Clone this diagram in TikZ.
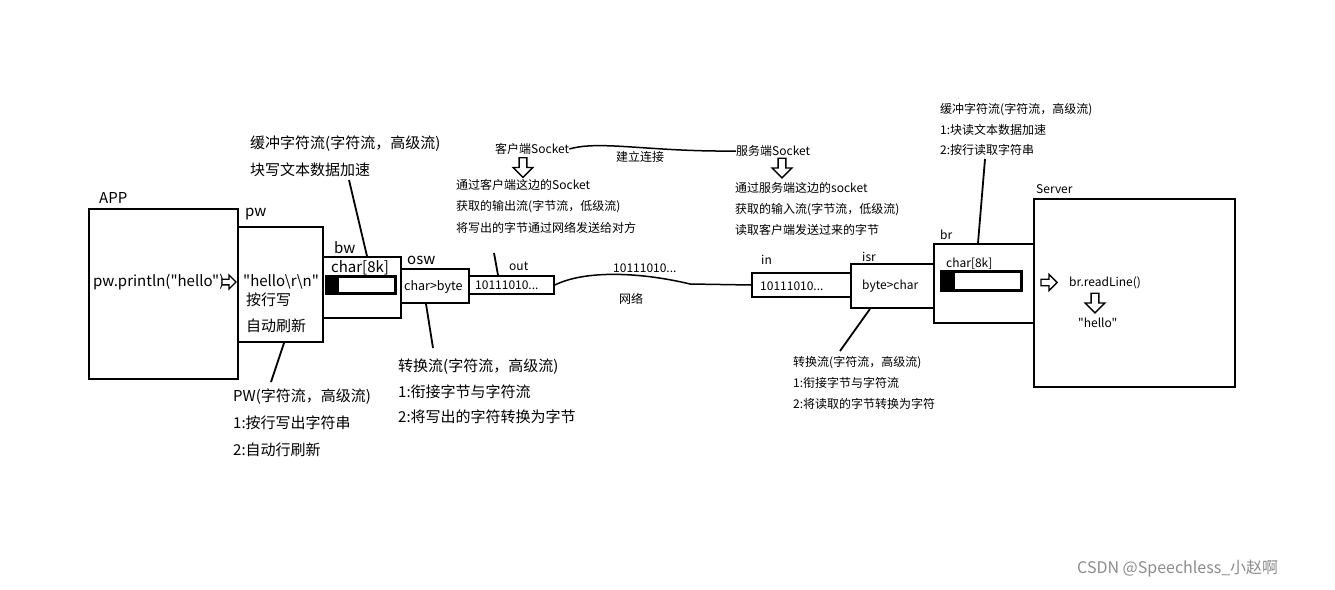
\documentclass[tikz,border=0pt]{standalone}
\usepackage{fontspec}
\setmainfont{Noto Sans CJK SC}[Ligatures=TeXOff]
\usetikzlibrary{calc}
\newcommand{\dq}{\symbol{34}}
\tikzset{
  box/.style={draw, line width=1.8pt, inner sep=0pt, fill=white},
  big/.style={inner sep=0pt, anchor=west, font=\fontsize{15}{18}\selectfont},
  small/.style={inner sep=0pt, anchor=west, font=\fontsize{12}{14}\selectfont},
  lead/.style={line width=1.8pt},
  wire/.style={line width=1.5pt},
  hollowarrow/.pic={\draw[line width=1.4pt, fill=white] (-7,-2.8) -- (0,-2.8) -- (0,-7) -- (7,0) -- (0,7) -- (0,2.8) -- (-7,2.8) -- cycle;}
}
\begin{document}
\begin{tikzpicture}[x=1pt,y=-1pt]
\useasboundingbox (0,0) rectangle (1335,589);
% boxes
\node[box, minimum width=149, minimum height=170] (app) at (163.5,294) {};
\node[box, minimum width=85, minimum height=115] (pw) at (280.5,284.5) {};
\node[box, minimum width=78, minimum height=61] (bw) at (362,287.5) {};
\node[box, minimum width=68, minimum height=34] (osw) at (435,286) {};
\node[box, minimum width=85, minimum height=18] (out) at (511.5,285) {};
\node[box, minimum width=99, minimum height=24] (in) at (801.5,285) {};
\node[box, minimum width=84, minimum height=44] (isr) at (893,286) {};
\node[box, minimum width=100, minimum height=79] (br) at (984,283.5) {};
\node[box, minimum width=201, minimum height=188] (server) at (1134.5,293) {};
% buffers
\node[box, minimum width=68, minimum height=16] (bwbuf) at (361,285) {};
\fill (327,277) rectangle (339,293);
\draw[line width=1.8pt] (bwbuf.north west) rectangle (bwbuf.south east);
\node[box, minimum width=79, minimum height=18] (brbuf) at (981.5,281) {};
\fill (942,272) rectangle (955,290);
\draw[line width=1.8pt] (brbuf.north west) rectangle (brbuf.south east);
% labels left
\node[big] (lapp) at (99,198) {APP};
\node[big] (lpw) at (245,214) {pw};
\node[big] (lbw) at (334,248) {bw};
\node[big] (lbuf1) at (331,268) {char[8k]};
\node[big] (losw) at (407,260) {osw};
\node[big] (tprint) at (93,282) {pw.println(\dq hello\dq)};
\path (229,282) pic {hollowarrow};
\node[big] (thello) at (243,282) {\dq hello\textbackslash r\textbackslash n\dq};
\node[big] (t1) at (246,300) {按行写};
\node[big] (t2) at (246,326) {自动刷新};
\node[big] (n1a) at (250,144) {缓冲字符流(字符流，高级流)};
\node[big] (n1b) at (250,170) {块写文本数据加速};
\node[big] (n2a) at (233,397) {PW(字符流，高级流)};
\node[big] (n2b) at (233,423) {1:按行写出字符串};
\node[big] (n2c) at (233,450) {2:自动行刷新};
\node[big] (n3a) at (398,367) {转换流(字符流，高级流)};
\node[big] (n3b) at (398,392) {1:衔接字节与字符流};
\node[big] (n3c) at (398,417) {2:将写出的字符转换为字节};
% middle
\node[small, font=\fontsize{12.5}{14}\selectfont] (tcb) at (404,287) {char>byte};
\node[small] (tout) at (475,285) {10111010...};
\node[small] (lout) at (509,266) {out};
\node[small] (tnet) at (613,268) {10111010...};
\node[small] (lnet) at (619,299) {网络};
\node[small] (csock) at (495,149) {客户端Socket};
\node[small] (lconn) at (616,157) {建立连接};
\node[small] (ssock) at (736,151) {服务端Socket};
\path (523,167.5) pic[rotate=-90, scale=1.4] {hollowarrow};
\node[small] (c1) at (456,185) {通过客户端这边的Socket};
\node[small] (c2) at (456,207) {获取的输出流(字节流，低级流)};
\node[small] (c3) at (456,228) {将写出的字节通过网络发送给对方};
\path (782,168) pic[rotate=-90, scale=1.4] {hollowarrow};
\node[small] (s1) at (735,188) {通过服务端这边的socket};
\node[small] (s2) at (735,210) {获取的输入流(字节流，低级流)};
\node[small] (s3) at (735,230) {读取客户端发送过来的字节};
% right
\node[small] (lin) at (761,260) {in};
\node[small] (tin) at (760,286) {10111010...};
\node[small] (lisr) at (862,257) {isr};
\node[small] (tbc) at (862,286) {byte>char};
\node[small] (lbr) at (940,235) {br};
\node[small] (lbuf2) at (946,264) {char[8k]};
\node[small] (lserver) at (1036,189) {Server};
\path (1049,282.5) pic[scale=1.15] {hollowarrow};
\node[small] (trl) at (1069,283) {br.readLine()};
\path (1095,303) pic[rotate=-90, scale=1.4] {hollowarrow};
\node[small] (thl) at (1078,323) {\dq hello\dq};
\node[small] (i1) at (793,363) {转换流(字符流，高级流)};
\node[small] (i2) at (793,383) {1:衔接字节与字符流};
\node[small] (i3) at (793,404) {2:将读取的字节转换为字符};
\node[small] (b1) at (940,110) {缓冲字符流(字符流，高级流)};
\node[small] (b2) at (940,130) {1:块读文本数据加速};
\node[small] (b3) at (940,150) {2:按行读取字符串};
% callout lines
\draw[lead] ($(bw.north)+(5,0)$) -- (349,180);
\draw[lead] ($(pw.south)+(3.5,0)$) -- (271,382);
\draw[lead] ($(osw.south)+(-9,0)$) -- (433,348);
\draw[lead] ($(out.north)+(-13.5,0)$) -- (494,253);
\draw[lead] ($(isr.south)+(-23,0)$) -- (840,351);
\draw[lead] ($(br.north)+(-6,0)$) -- (985,159);
% wires
\draw[wire] (out.east) .. controls (585,270) and (640,272) .. (690,284) -- (in.west);
\draw[wire] (csock.east) .. controls (600,140) and (650,152) .. (ssock.west);
% watermark
\node[inner sep=0pt, anchor=west, text=black!45, font=\fontsize{16}{18}\selectfont] (wm) at (1077,569) {CSDN @Speechless\_小赵啊};
\end{tikzpicture}
\end{document}
